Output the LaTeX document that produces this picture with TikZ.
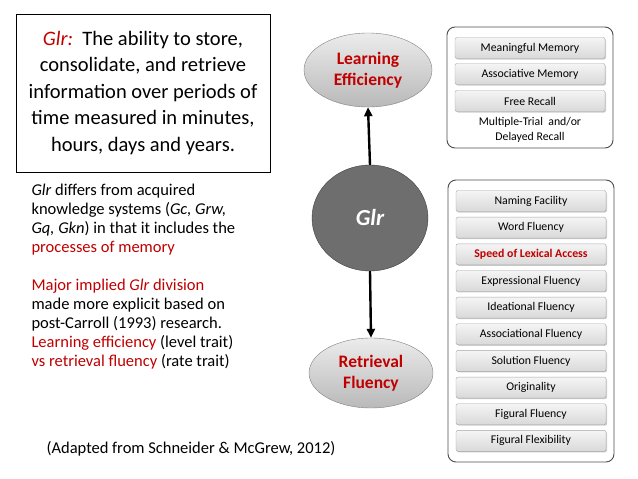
\documentclass[tikz,border=0pt]{standalone}
\usepackage{fontspec}
\setmainfont{Carlito}
\usetikzlibrary{shadows,shapes.geometric,arrows.meta}
\definecolor{dred}{RGB}{192,0,0}
\definecolor{glr}{RGB}{110,110,110}
\begin{document}
\begin{tikzpicture}[x=1pt,y=-1pt,
 item/.style={draw=gray!70,rounded corners=2pt,top color=gray!8,bottom color=gray!30,minimum width=150pt,minimum height=21pt,inner sep=0pt,font=\fontsize{11.8}{13}\selectfont,drop shadow={shadow xshift=1pt,shadow yshift=-1pt,opacity=0.4}},
 grp/.style={draw=gray!60!black,rounded corners=8pt,line width=0.9pt},
 arr/.style={-{Triangle[length=9pt,width=8pt]},line width=2.4pt}]
\useasboundingbox (0,0) rectangle (638,479);
\node[draw,line width=0.8pt,minimum width=254pt,minimum height=158pt,align=center,font=\fontsize{20.5}{26.5}\selectfont] (def) at (143,93) {{\color{dred}\itshape Glr:}\ \ The ability to store,\\consolidate, and retrieve\\information over periods of\\time measured in minutes,\\hours, days and years.};
\node[ellipse,minimum width=128pt,minimum height=74pt,draw=gray,top color=gray!15,bottom color=gray!55,font=\bfseries\fontsize{17.5}{21}\selectfont,text=dred,align=center] (le) at (368,70) {Learning\\Efficiency};
\node[ellipse,minimum width=116pt,minimum height=106pt,draw=gray!50!black,fill=glr,font=\bfseries\itshape\fontsize{23}{26}\selectfont,text=white] (g) at (370,218) {Glr};
\node[ellipse,minimum width=124pt,minimum height=70pt,draw=gray,top color=gray!15,bottom color=gray!55,font=\bfseries\fontsize{17.5}{21}\selectfont,text=dred,align=center] (rf) at (371,373) {Retrieval\\Fluency};
\draw[arr] (g.north) -- (le.south);
\draw[arr] (g.south) -- (rf.north);
\draw[grp] (447,27) rectangle (613,148);
\node[item] (m1) at (530,48) {Meaningful Memory};
\node[item] (m2) at (530,74) {Associative Memory};
\node[item] (m3) at (530,101) {Free Recall};
\node[align=center,font=\fontsize{11.8}{15}\selectfont] (m4) at (530,130) {Multiple-Trial\ \ and/or\\Delayed Recall};
\draw[grp] (448,180) rectangle (614,462);
\foreach \t [count=\i] in {Naming Facility,Word Fluency,{\color{dred}\bfseries Speed of Lexical Access},Expressional Fluency,Ideational Fluency,Associational Fluency,Solution Fluency,Originality,Figural Fluency,Figural Flexibility}
  \node[item] (f\i) at (531,{201+26.65*(\i-1)}) {\t};
\node[anchor=north west,align=left,font=\fontsize{16.5}{19}\selectfont] (p1) at (28,181) {\itshape Glr\upshape{} differs from acquired\\knowledge systems (\itshape Gc, Grw,\\\itshape Gq, Gkn\upshape) in that it includes the\\{\color{dred}processes of memory}};
\node[anchor=north west,align=left,font=\fontsize{16.5}{19}\selectfont] (p2) at (28,276) {{\color{dred}Major implied \itshape Glr\upshape{} division}\\made more explicit based on\\post-Carroll (1993) research.\\{\color{dred}Learning efficiency} (level trait)\\{\color{dred}vs retrieval fluency} (rate trait)};
\node[font=\fontsize{16.5}{19}\selectfont] (cit) at (191,449) {(Adapted from Schneider \& McGrew, 2012)};
\end{tikzpicture}
\end{document}
